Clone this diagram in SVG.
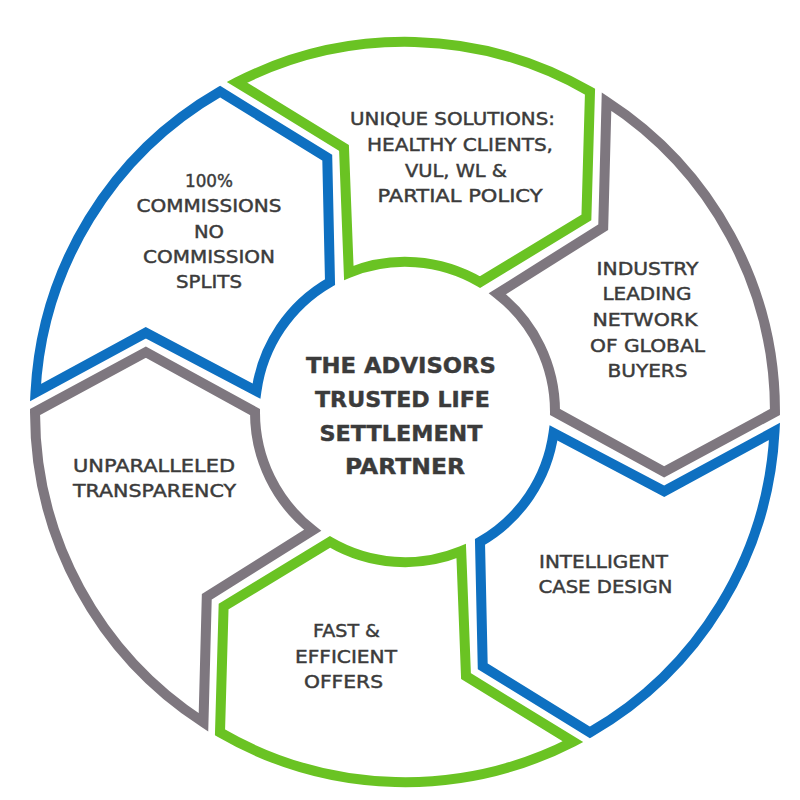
<svg xmlns="http://www.w3.org/2000/svg" width="800" height="800" viewBox="0 0 800 800">
<style>
.seg{fill:#ffffff;stroke-width:10;stroke-linejoin:miter;stroke-miterlimit:10}
.g{stroke:#6ac323}
.b{stroke:#0e70c1}
.k{stroke:#7e777f}
.t{font-family:"DejaVu Sans","Liberation Sans",sans-serif;font-size:18px;fill:#3b3b3b;stroke:#3b3b3b;stroke-width:0.45;text-anchor:middle}
.c{font-family:"DejaVu Sans","Liberation Sans",sans-serif;font-size:22px;font-weight:bold;fill:#3b3b3b;stroke:#3b3b3b;stroke-width:0.4;text-anchor:middle}
</style>
<defs>
<path id="shape" d="M -168,-329.7 A 369 369 0 0 1 185,-320.4 L 181.4,-194.5 L 75,-129.9 A 149 149 0 0 0 -56.2,-139.1 L -61,-264.1 Z"/>
</defs>
<rect width="800" height="800" fill="#ffffff"/>
<g id="node-unique-solutions">
<use href="#shape" class="seg g" transform="translate(405,412)"/>
<text class="t" x="452.5" y="125" textLength="205" lengthAdjust="spacingAndGlyphs">UNIQUE SOLUTIONS:</text>
<text class="t" x="460" y="150.5" textLength="186" lengthAdjust="spacingAndGlyphs">HEALTHY CLIENTS,</text>
<text class="t" x="456" y="176.5" textLength="102" lengthAdjust="spacingAndGlyphs">VUL, WL &amp;</text>
<text class="t" x="460" y="201.5" textLength="165" lengthAdjust="spacingAndGlyphs">PARTIAL POLICY</text>
</g>
<g id="node-industry-leading">
<use href="#shape" class="seg k" transform="translate(405,412) rotate(60)"/>
<text class="t" x="647.5" y="275" textLength="102" lengthAdjust="spacingAndGlyphs">INDUSTRY</text>
<text class="t" x="647" y="300" textLength="89" lengthAdjust="spacingAndGlyphs">LEADING</text>
<text class="t" x="645" y="326" textLength="105" lengthAdjust="spacingAndGlyphs">NETWORK</text>
<text class="t" x="647.5" y="351.5" textLength="115" lengthAdjust="spacingAndGlyphs">OF GLOBAL</text>
<text class="t" x="647.5" y="376.5" textLength="80" lengthAdjust="spacingAndGlyphs">BUYERS</text>
</g>
<g id="node-intelligent-case-design">
<use href="#shape" class="seg b" transform="translate(405,412) rotate(120)"/>
<text class="t" x="603.5" y="567.5" textLength="129" lengthAdjust="spacingAndGlyphs">INTELLIGENT</text>
<text class="t" x="605.5" y="593" textLength="134" lengthAdjust="spacingAndGlyphs">CASE DESIGN</text>
</g>
<g id="node-fast-efficient">
<use href="#shape" class="seg g" transform="translate(405,412) rotate(180)"/>
<text class="t" x="346.5" y="637" textLength="67" lengthAdjust="spacingAndGlyphs">FAST &amp;</text>
<text class="t" x="346" y="663" textLength="102" lengthAdjust="spacingAndGlyphs">EFFICIENT</text>
<text class="t" x="343.5" y="688" textLength="79" lengthAdjust="spacingAndGlyphs">OFFERS</text>
</g>
<g id="node-transparency">
<use href="#shape" class="seg k" transform="translate(405,412) rotate(240)"/>
<text class="t" x="154" y="471.5" textLength="162" lengthAdjust="spacingAndGlyphs">UNPARALLELED</text>
<text class="t" x="154.5" y="497" textLength="163" lengthAdjust="spacingAndGlyphs">TRANSPARENCY</text>
</g>
<g id="node-commissions">
<use href="#shape" class="seg b" transform="translate(405,412) rotate(300)"/>
<text class="t" x="209" y="186.5" textLength="48" lengthAdjust="spacingAndGlyphs">100%</text>
<text class="t" x="209" y="211.5" textLength="145" lengthAdjust="spacingAndGlyphs">COMMISSIONS</text>
<text class="t" x="209" y="237.5" textLength="30" lengthAdjust="spacingAndGlyphs">NO</text>
<text class="t" x="209" y="262.5" textLength="132" lengthAdjust="spacingAndGlyphs">COMMISSION</text>
<text class="t" x="209" y="288" textLength="66" lengthAdjust="spacingAndGlyphs">SPLITS</text>
</g>
<g id="node-center">
<text class="c" x="401" y="373" textLength="190" lengthAdjust="spacingAndGlyphs">THE ADVISORS</text>
<text class="c" x="402.5" y="407" textLength="175" lengthAdjust="spacingAndGlyphs">TRUSTED LIFE</text>
<text class="c" x="401" y="440.5" textLength="163" lengthAdjust="spacingAndGlyphs">SETTLEMENT</text>
<text class="c" x="405" y="474" textLength="120" lengthAdjust="spacingAndGlyphs">PARTNER</text>
</g>
<g id="connectors"></g>
</svg>
